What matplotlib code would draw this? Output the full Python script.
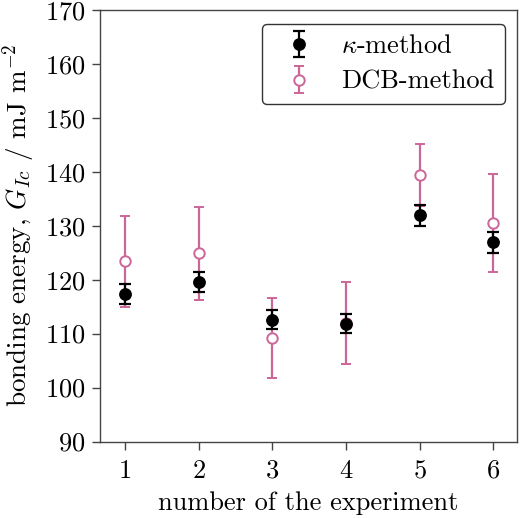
import matplotlib
matplotlib.use("Agg")
import matplotlib.pyplot as plt

plt.rcParams['font.family'] = ['cmr10', 'DejaVu Serif']
plt.rcParams['mathtext.fontset'] = 'cm'
plt.rcParams['axes.formatter.use_mathtext'] = True

experiments = [1, 2, 3, 4, 5, 6]
kappa_vals = [117.3, 119.65, 112.6, 111.85, 131.95, 126.9]
kappa_err = [1.9, 1.85, 1.8, 1.75, 1.95, 1.95]
dcb_vals = [123.4, 124.9, 109.2, 111.9, 139.4, 130.5]
dcb_err = [8.5, 8.6, 7.4, 7.6, 5.7, 9.1]

pink = '#cc6699'

fig = plt.figure(figsize=(5.2, 5.18), dpi=100)
ax = fig.add_axes([100/520, 1-441.5/518, 417/520, 431.5/518])

ax.errorbar(experiments, kappa_vals, yerr=kappa_err, fmt='o', color='black',
            markersize=8.2, capsize=4.2, capthick=1.6, elinewidth=1.6,
            label=r'$\kappa$-method', zorder=3)
ax.errorbar(experiments, dcb_vals, yerr=dcb_err, fmt='o', color=pink,
            mfc='white', mec=pink, markersize=7.5, mew=1.4, capsize=3.8,
            capthick=1.6, elinewidth=1.6, label='DCB-method', zorder=2)

ax.set_xlim(0.66, 6.32)
ax.set_ylim(90, 170)
ax.set_xticks(experiments)
ax.set_yticks(range(90, 171, 10))
ax.tick_params(labelsize=19, length=5.5, width=1, color='#444444', pad=5)
ax.tick_params(axis='x', pad=7)
for s in ax.spines.values():
    s.set_color('#444444')
    s.set_linewidth(1.0)
ax.set_xlabel('number of the experiment', fontsize=19, labelpad=6)
ax.set_ylabel(r'bonding energy, $G_{Ic}$ / mJ m$^{-2}$', fontsize=19.5, labelpad=6)

leg = ax.legend(loc='upper right', bbox_to_anchor=(0.971, 0.9675),
                fontsize=19, frameon=True, fancybox=True,
                edgecolor='#333333', framealpha=1, borderpad=0.4,
                handletextpad=0.6, labelspacing=0.45, borderaxespad=0.0)
leg.get_frame().set_linewidth(1.0)

fig.savefig('out.png', dpi=100)
